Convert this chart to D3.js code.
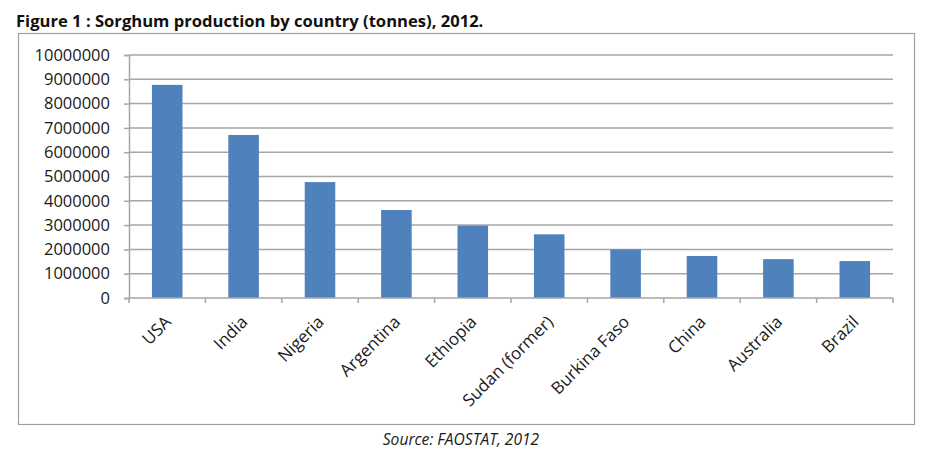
<!DOCTYPE html>
<html><head><meta charset="utf-8">
<script src="https://cdn.jsdelivr.net/npm/d3@7"></script>
<style>body{margin:0;background:#fff}svg{display:block}text{font-family:"Open Sans","Noto Sans",sans-serif}</style>
</head><body>
<script>
const categories = ["USA","India","Nigeria","Argentina","Ethiopia","Sudan (former)","Burkina Faso","China","Australia","Brazil"];
const production = [8770000,6710000,4770000,3620000,2980000,2620000,2000000,1730000,1600000,1520000];
const yTicks = [0,1000000,2000000,3000000,4000000,5000000,6000000,7000000,8000000,9000000,10000000];
const titleText = "Figure 1 : Sorghum production by country (tonnes), 2012.";
const sourceText = "Source: FAOSTAT, 2012";

const W = 939, H = 456;
const svg = d3.select("body").append("svg").attr("width", W).attr("height", H);
const FONT = '"Open Sans","Noto Sans",sans-serif';

svg.append("text").attr("x", 16).attr("y", 27).attr("font-size", 16.6).attr("font-weight", 700)
  .attr("font-family", FONT).attr("fill", "#111").text(titleText);

svg.append("rect").attr("x", 18.5).attr("y", 33.5).attr("width", 896).attr("height", 391)
  .attr("fill", "#fff").attr("stroke", "#a0a0a0").attr("stroke-width", 1.2);

const pL = 129, pR = 893, pT = 55, pB = 298;
const x = d3.scaleBand().domain(categories).range([pL, pR]).paddingInner(0.6).paddingOuter(0.3);
const y = d3.scaleLinear().domain([0, 10000000]).range([pB, pT]);

// gridlines
svg.append("g").selectAll("line").data(yTicks.filter(d => d > 0)).join("line")
  .attr("x1", pL).attr("x2", pR).attr("y1", d => y(d)).attr("y2", d => y(d))
  .attr("stroke", "#a6a6a6").attr("stroke-width", 1.5);

// y axis
const yAxis = svg.append("g").attr("transform", `translate(${pL},0)`)
  .call(d3.axisLeft(y).tickValues(yTicks).tickFormat(d3.format("d")).tickSize(5).tickPadding(14));
yAxis.select(".domain").attr("stroke", "#a6a6a6").attr("stroke-width", 1.5);
yAxis.selectAll(".tick line").attr("stroke", "#a6a6a6").attr("stroke-width", 1.5);
yAxis.selectAll("text").attr("font-size", 16.5).attr("fill", "#1a1a1a").attr("font-family", FONT);

// bars
svg.append("g").selectAll("rect").data(categories).join("rect")
  .attr("x", d => x(d)).attr("width", x.bandwidth())
  .attr("y", (d, i) => y(production[i])).attr("height", (d, i) => pB - y(production[i]))
  .attr("fill", "#4f81bd");

// x axis line and boundary ticks
const step = (pR - pL) / categories.length;
const gx = svg.append("g");
gx.append("line").attr("x1", pL).attr("x2", pR).attr("y1", pB).attr("y2", pB)
  .attr("stroke", "#a6a6a6").attr("stroke-width", 1.5);
gx.selectAll("line.t").data(d3.range(categories.length + 1)).join("line").attr("class", "t")
  .attr("x1", i => pL + i * step).attr("x2", i => pL + i * step)
  .attr("y1", pB).attr("y2", pB + 5).attr("stroke", "#a6a6a6").attr("stroke-width", 1.5);

// x labels rotated
gx.selectAll("text").data(categories).join("text")
  .attr("transform", d => `translate(${x(d) + x.bandwidth() / 2 + 5},${pB + 25}) rotate(-45)`)
  .attr("text-anchor", "end").attr("font-size", 17).attr("font-family", FONT).attr("fill", "#1a1a1a").text(d => d);

svg.append("text").attr("x", 461).attr("y", 445).attr("text-anchor", "middle")
  .attr("font-size", 15.6).attr("font-style", "italic").attr("font-family", FONT).attr("fill", "#1a1a1a").text(sourceText);
</script>
</body></html>
